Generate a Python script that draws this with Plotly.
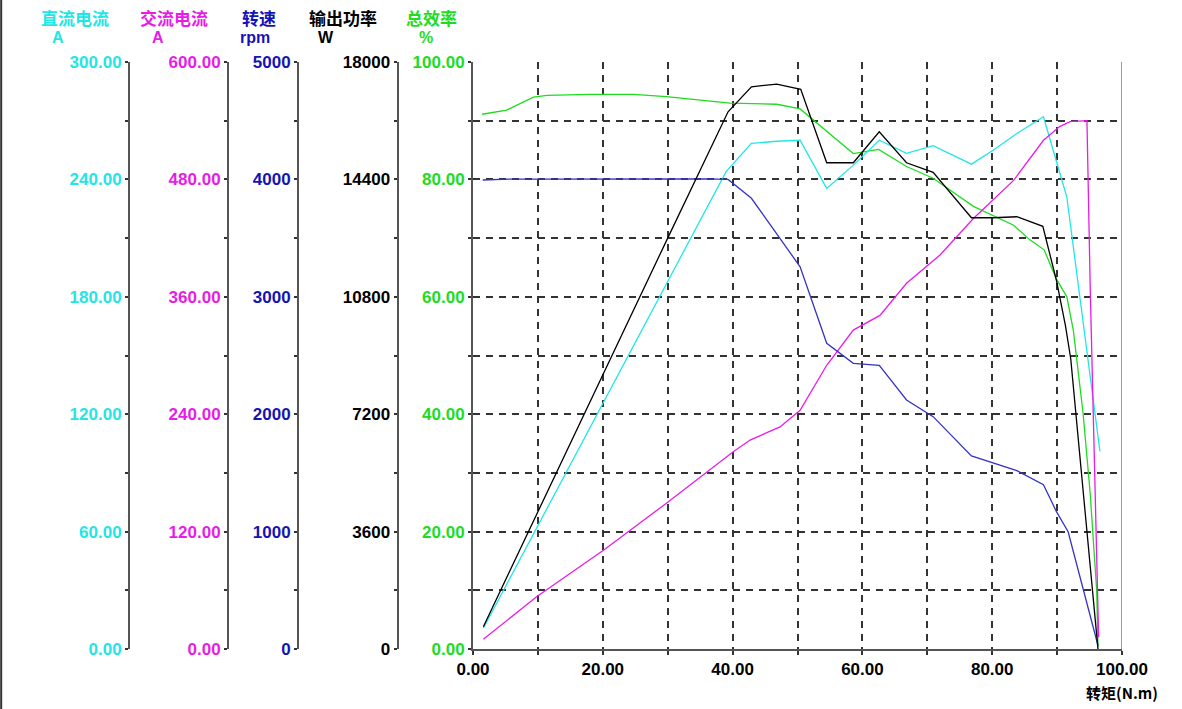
import plotly.graph_objects as go

# ---------------- data ----------------
# DC current (A)
dc_torque = [1.6, 10.0, 20.0, 30.0, 39.0, 42.9, 46.8, 50.4, 54.5, 58.6, 62.6, 66.8, 70.9, 76.8, 80.2, 83.8, 87.9, 90.0, 91.5, 96.6]
dc_current = [10.6, 63, 125, 188, 244, 258.4, 259.5, 260, 235.4, 247.3, 260, 253.3, 257.2, 247.8, 255, 263.5, 272, 248, 231, 101]

# AC current (A)
ac_torque = [1.6, 9.8, 20.1, 29.8, 40.1, 42.7, 47.3, 50.4, 54.5, 58.6, 62.7, 66.8, 72.0, 77.1, 83.3, 85.8, 87.9, 90.4, 92.0, 94.6, 94.8, 95.1, 96.4]
ac_current = [9.9, 53.5, 101, 149, 201.7, 213.6, 227, 244, 290, 326, 341, 373.8, 403, 440, 479, 501, 520, 534, 539, 540, 462, 370, 12]

# Speed (rpm)
sp_torque = [1.5, 5.5, 10.0, 20.0, 30.0, 36.0, 39.3, 42.9, 50.4, 54.5, 58.6, 62.6, 66.8, 70.9, 76.8, 80.2, 83.8, 87.9, 89.9, 91.7, 96.3]
speed = [3995, 4003, 4003, 4005, 4005, 4005, 4000, 3839, 3256, 2604, 2433, 2416, 2121, 1979, 1644, 1582, 1519, 1400, 1170, 999, 30]

# Output power (W)
pw_torque = [1.6, 10.0, 20.0, 30.0, 39.3, 42.9, 46.8, 50.5, 54.5, 58.6, 62.6, 66.8, 70.9, 76.8, 80.2, 83.8, 87.8, 89.9, 91.3, 92.1, 96.3]
power = [684, 4220, 8440, 12600, 16474, 17240, 17323, 17161, 14910, 14910, 15861, 14910, 14616, 13224, 13224, 13255, 12960, 11300, 9900, 8900, 0]

# Total efficiency (%)
ef_torque = [1.4, 5.2, 9.3, 11.4, 18.0, 24.7, 29.8, 35.5, 39.6, 46.8, 50.4, 58.6, 60.1, 62.5, 66.8, 70.9, 77.1, 83.3, 85.8, 88.0, 89.9, 91.5, 92.5, 94.0, 95.1, 96.1, 96.3]
efficiency = [91.1, 91.8, 94.0, 94.3, 94.5, 94.5, 94.1, 93.4, 93.0, 92.8, 92.0, 84.4, 84.7, 85.1, 82.2, 80.2, 75.4, 72.2, 69.7, 68.0, 63.0, 60.0, 54.3, 40.2, 26.5, 10.0, 0.4]

# axis scales
x_max = 100
dc_max, ac_max, sp_max, pw_max, ef_max = 300, 600, 5000, 18000, 100

# ---------------- style ----------------
W, H = 1182, 709
C_DC = "#22E6E6"
C_AC = "#E81CE8"
C_SP = "#1414B4"
C_SP_LINE = "#3434C4"
C_PW = "#000000"
C_EF = "#1EDC1E"
GRID = "#333333"
AXL = "#555555"
NUMFONT = "Liberation Sans, Arial, sans-serif"
CJK = "Noto Sans CJK SC, sans-serif"
DASH = "7px,6px"


def px(x):
    return x / W


def py(y):
    return 1 - y / H


x_dom = [px(473), px(1122)]
y_dom = [py(649), py(62)]

fig = go.Figure()
line_w = 1.3
fig.add_trace(go.Scatter(x=ef_torque, y=efficiency, mode="lines", line=dict(color=C_EF, width=line_w), yaxis="y"))
fig.add_trace(go.Scatter(x=dc_torque, y=dc_current, mode="lines", line=dict(color=C_DC, width=line_w), yaxis="y2"))
fig.add_trace(go.Scatter(x=ac_torque, y=ac_current, mode="lines", line=dict(color=C_AC, width=line_w), yaxis="y3"))
fig.add_trace(go.Scatter(x=sp_torque, y=speed, mode="lines", line=dict(color=C_SP_LINE, width=line_w), yaxis="y4"))
fig.add_trace(go.Scatter(x=pw_torque, y=power, mode="lines", line=dict(color=C_PW, width=line_w), yaxis="y5"))


def side_axis(rng, dtick, fmt, color, pos):
    return dict(
        range=[0, rng], dtick=dtick, tick0=0, tickformat=fmt,
        overlaying="y", anchor="free", position=pos, side="left",
        showgrid=False, zeroline=False, automargin=False,
        showline=True, linecolor=AXL, linewidth=2,
        ticks="outside", ticklen=3, tickwidth=1.5, tickcolor="#333",
        minor=dict(dtick=dtick / 2, tick0=0, ticks="outside", ticklen=3, tickwidth=1.5, tickcolor="#333", showgrid=False),
        tickfont=dict(family=NUMFONT, size=17, color=color, weight="bold"),
        fixedrange=True,
    )


fig.update_layout(
    width=W, height=H, autosize=False,
    margin=dict(l=0, r=0, t=0, b=0, pad=0, autoexpand=False),
    paper_bgcolor="white", plot_bgcolor="white",
    showlegend=False,
    xaxis=dict(
        domain=x_dom, range=[0, x_max], dtick=20, tick0=0, tickformat=".2f",
        showgrid=True, gridcolor=GRID, gridwidth=1.6, griddash=DASH,
        minor=dict(dtick=10, tick0=0, showgrid=True, gridcolor=GRID, gridwidth=1.6, griddash=DASH,
                   ticks="outside", ticklen=4, tickwidth=1.5, tickcolor="#333"),
        ticks="outside", ticklen=4, tickwidth=1.5, tickcolor="#333",
        showline=True, linecolor=AXL, linewidth=2, zeroline=False, automargin=False,
        tickfont=dict(family=NUMFONT, size=17, color="black", weight="bold"),
        anchor="y", fixedrange=True,
    ),
    yaxis=dict(
        domain=y_dom, range=[0, ef_max], dtick=20, tick0=0, tickformat=".2f",
        showgrid=True, gridcolor=GRID, gridwidth=1.6, griddash=DASH,
        minor=dict(dtick=10, tick0=0, showgrid=True, gridcolor=GRID, gridwidth=1.6, griddash=DASH,
                   ticks="outside", ticklen=3, tickwidth=1.5, tickcolor="#333"),
        ticks="outside", ticklen=3, tickwidth=1.5, tickcolor="#333",
        showline=True, linecolor=AXL, linewidth=2, zeroline=False, automargin=False,
        tickfont=dict(family=NUMFONT, size=17, color=C_EF, weight="bold"),
        anchor="x", fixedrange=True,
    ),
    yaxis2=side_axis(dc_max, 60, ".2f", C_DC, px(129)),
    yaxis3=side_axis(ac_max, 120, ".2f", C_AC, px(228)),
    yaxis4=side_axis(sp_max, 1000, "d", C_SP, px(298)),
    yaxis5=side_axis(pw_max, 3600, "d", C_PW, px(397.5)),
)

# right border of the plot
fig.add_shape(type="line", xref="x", yref="y", x0=100, x1=100, y0=0, y1=100,
              line=dict(color="#9a9a9a", width=2), layer="above")
# left border of the window
fig.add_shape(type="line", xref="paper", yref="paper", x0=0.001, x1=0.001, y0=0, y1=1,
              line=dict(color="#333", width=2))

headers = [
    ("直流电流", 74.5, C_DC, "A", 58),
    ("交流电流", 173.5, C_AC, "A", 158),
    ("转速", 259, C_SP, "rpm", 255),
    ("输出功率", 343, "black", "W", 326),
    ("总效率", 431.5, C_EF, "%", 426),
]
for title, tx, col, unit, ux in headers:
    fig.add_annotation(text=title, x=px(tx), y=py(18), xref="paper", yref="paper",
                       xanchor="center", yanchor="middle", showarrow=False,
                       font=dict(family=CJK, size=17, color=col, weight="bold"))
    fig.add_annotation(text=unit, x=px(ux), y=py(37), xref="paper", yref="paper",
                       xanchor="center", yanchor="middle", showarrow=False,
                       font=dict(family=NUMFONT, size=16, color=col, weight="bold"))

fig.add_annotation(text="转矩(N.m)", x=px(1122), y=py(692), xref="paper", yref="paper",
                   xanchor="center", yanchor="middle", showarrow=False,
                   font=dict(family=CJK, size=15, color="black", weight="bold"))

fig.write_html("out.html", config={"displayModeBar": False},
               post_script="document.body.style.margin='0';document.body.style.overflow='hidden';")
